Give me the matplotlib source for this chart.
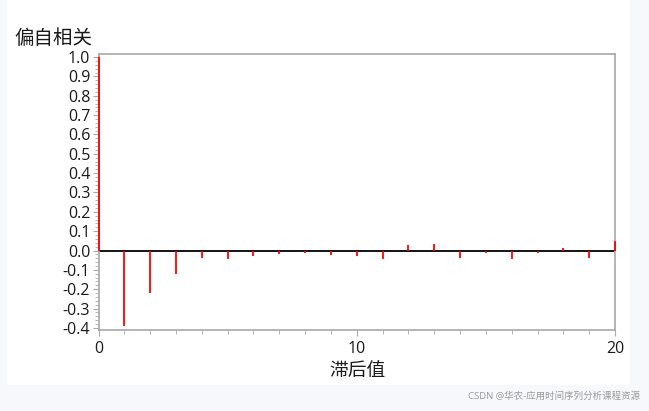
import matplotlib.pyplot as plt
from matplotlib.patches import Rectangle
from matplotlib.ticker import MultipleLocator, FixedLocator

# partial autocorrelation values
lags = list(range(0, 21))
pacf = [1.0, -0.39, -0.22, -0.12, -0.04, -0.045, -0.03, -0.02, -0.014, -0.022,
        -0.03, -0.045, 0.026, 0.035, -0.038, -0.014, -0.045, -0.014, 0.012,
        -0.038, 0.05]
xticks = [0, 10, 20]
yticks = [round(-0.4 + 0.1 * i, 1) for i in range(15)]

plt.rcParams['font.family'] = ['Open Sans', 'Noto Sans CJK SC', 'DejaVu Sans']
plt.rcParams['axes.unicode_minus'] = False

fig = plt.figure(figsize=(6.49, 4.11), dpi=100)
fig.patch.set_facecolor('#f7f8fc')
# white card behind the chart
fig.patches.append(Rectangle((7 / 649, 1 - 385 / 411), 623 / 649, 385 / 411,
                             transform=fig.transFigure, facecolor='white',
                             edgecolor='none', zorder=-5))

ax = fig.add_axes([98.5 / 649, 1 - 330 / 411, 516.5 / 649, 276 / 411])
ax.set_facecolor('white')

ax.vlines(lags, 0, pacf, colors='#ff0000', linewidth=1.3, zorder=3,
          clip_on=False)
ax.axhline(0, color='black', linewidth=1.3, zorder=2)

ax.set_xlim(0, 20)
ax.set_ylim(-0.411, 1.016)

ax.xaxis.set_major_locator(FixedLocator(xticks))
ax.xaxis.set_minor_locator(MultipleLocator(1))
ax.yaxis.set_major_locator(FixedLocator(yticks))
ax.yaxis.set_minor_locator(MultipleLocator(0.02))
ax.set_yticklabels([f'{v:.1f}' for v in yticks])

for s in ax.spines.values():
    s.set_color('#a8a8a8')
    s.set_linewidth(1.2)

ax.tick_params(which='both', direction='out', color='#a8a8a8', labelsize=11.5,
               labelcolor='#1a1a1a')
ax.tick_params(which='major', length=4, pad=2)
ax.tick_params(which='minor', length=3)
ax.tick_params(axis='x', pad=4)

fig.text(14 / 649, 1 - 39 / 411, '偏自相关', fontsize=14, va='center',
         ha='left', color='#1a1a1a')
fig.text(357 / 649, 1 - 371 / 411, '滞后值', fontsize=13.5, va='center',
         ha='center', color='#1a1a1a')
fig.text(640 / 649, 1 - 396 / 411, 'CSDN @华农-应用时间序列分析课程资源',
         fontsize=6.8, va='center', ha='right', color='#9a9a9a')

fig.savefig('out.png', dpi=100, facecolor=fig.get_facecolor())
